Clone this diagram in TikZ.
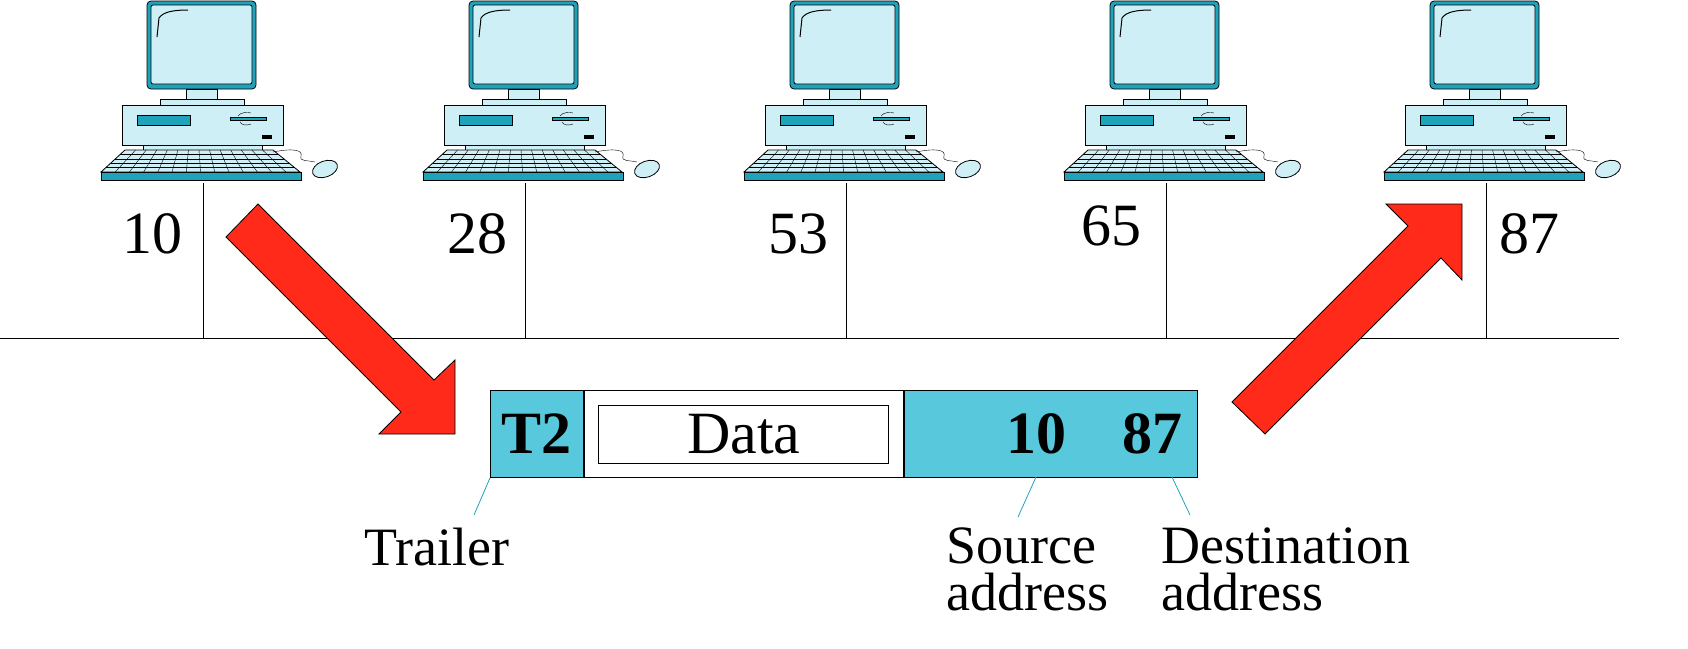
\documentclass[tikz,border=0pt]{standalone}
\usepackage{fontspec}
\setmainfont{Liberation Serif}
\definecolor{pcteal}{HTML}{1FA3BA}
\definecolor{pclight}{HTML}{CDEFF5}
\definecolor{framecyan}{HTML}{58C9DC}
\definecolor{arrowred}{HTML}{FF2A1A}
\tikzset{
  pcpart/.style = {draw=black, fill=#1, line width=0.8},
  pcpart/.default = pclight,
  big/.style = {font=\fontsize{60}{64}\selectfont, inner sep=0pt},
  small/.style = {font=\fontsize{54}{47}\selectfont, inner sep=0pt, align=left},
  cell/.style = {draw=black, line width=0.8, minimum height=87, inner sep=0pt, anchor=west},
  leader/.style = {draw=pcteal, line width=0.8},
  bigarrow/.style = {draw=black, fill=arrowred, line width=0.8}
}
% one computer, origin on its drop line
\newcommand\computer{%
	\draw[pcpart=pcteal, rounded corners=4] (-56,1) rectangle (53,89);
	\draw[pcpart, rounded corners=2] (-52,5) rectangle (49,84);
	\draw[line width=1] (-46,37) -- (-44,18) .. controls (-40,12) and (-30,10) .. (-15,10);
	\draw[pcpart] (-17,89) rectangle (14,99);
	\draw[pcpart] (-43,99) rectangle (41,105);
	\draw[pcpart] (-81,105) rectangle (80,145);
	\draw[pcpart=pcteal] (-66,115) rectangle (-13,125);
	\draw[pcpart=pcteal] (27,117) rectangle (63,120);
	\draw (35,116) .. controls (38,112) and (44,112) .. (48,113);
	\draw (37,122) .. controls (38,125) and (44,126) .. (48,124);
	\fill (59,135) rectangle (69,139);
	\draw[pcpart] (-60,145) rectangle (59,150);
	\draw[pcpart] (-78,150) -- (70,150) -- (97,172) -- (-102,172) -- cycle;
	\foreach \r in {1,...,4} {
		\draw ({-78-24*\r/5},{150+22*\r/5}) -- ({70+27*\r/5},{150+22*\r/5});
	}
	\foreach \c in {1,...,13} {
		\draw ({-78+148*\c/14},150) -- ({-102+199*\c/14},172);
	}
	\draw[pcpart=pcteal] (-102,172) rectangle (98,180);
	\draw (70,152) .. controls (90,148) and (100,150) .. (98,156) .. controls (96,162) and (105,160) .. (112,162);
	\draw[pcpart, rotate around={20:(122,169)}] (122,169) ellipse (13 and 8);
}

\begin{document}
\begin{tikzpicture}[x=1pt, y=-1pt]
	\useasboundingbox (0,0) rectangle (1688,648);

	% Bus
	\coordinate (busL) at (0,338);
	\coordinate (busR) at (1619,338);
	\draw[line width=1] (busL) -- (busR);

	% Stations
	\foreach \x/\name/\lx/\ly in {203/10/152/234, 525/28/477/234, 846/53/798/234, 1166/65/1111/226, 1486/87/1529/234} {
		\begin{scope}[shift={(\x,0)}]
			\computer
		\end{scope}
		\coordinate (top\name) at (\x,183);
		\coordinate (foot\name) at (\x,338);
		\draw[line width=1] (top\name) -- (foot\name);
		\node[big] (lab\name) at (\lx,\ly) {\name};
	}

	% Frame
	\node[cell, fill=framecyan, minimum width=93] (trail) at (490,434) {};
	\node[cell, fill=white, minimum width=319] (data) at (trail.east) {};
	\node[cell, fill=framecyan, minimum width=293] (addr) at (data.east) {};
	\node[draw=black, line width=0.8, minimum width=290, minimum height=58, inner sep=0pt] (databox) at (data.center) {};
	\node[big] (t2) at (trail.center) {\textbf{T2}};
	\node[big] at (databox.center) {Data};
	\node[big] (src) at (1036,434) {\textbf{10}};
	\node[big] (dst) at (1152,434) {\textbf{87}};

	% Labels
	\node[small, anchor=north west] (trailer) at (364,528) {Trailer};
	\node[small, anchor=north west] (source) at (946,528) {Source\\address};
	\node[small, anchor=north west] (dest) at (1161,528) {Destination\\address};
	\draw[leader] (trail.south west) -- (474,515);
	\draw[leader] (1036,477) -- (1018,517);
	\draw[leader] (1172,477) -- (1190,515);

	% Arrows
	\draw[bigarrow] (258,204) -- (434,380) -- (455,360) -- (455,434) -- (379,434) -- (401,412) -- (226,237) -- cycle;
	\draw[bigarrow] (1232,402) -- (1408,226) -- (1386,204) -- (1462,204) -- (1462,280) -- (1441,258) -- (1265,434) -- cycle;
\end{tikzpicture}
\end{document}
